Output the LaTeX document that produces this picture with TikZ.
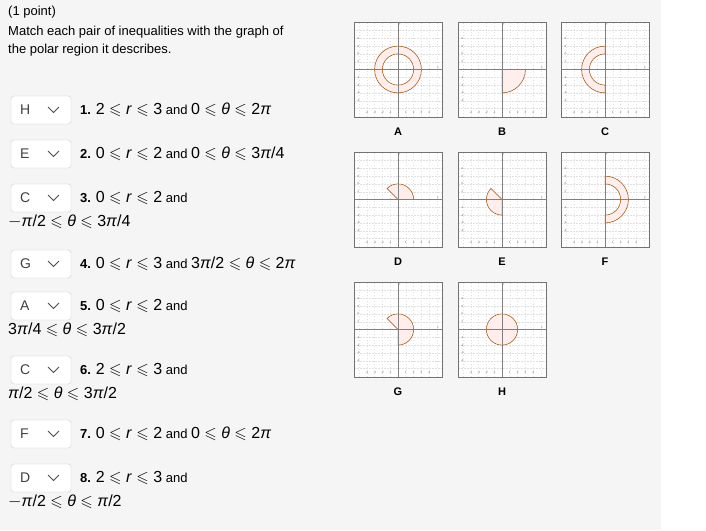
\documentclass[tikz,border=0pt]{standalone}
\usepackage{amssymb}
\usepackage{fontspec}
\setmainfont{Liberation Sans}
\begin{document}
\begin{tikzpicture}[x=1pt,y=-1pt,
  txt/.style={anchor=west,inner sep=0pt,font=\fontsize{13}{15}\selectfont},
  dd/.style={draw=black!20,fill=white,rounded corners=3pt,minimum width=60pt,minimum height=28pt,inner sep=0pt},
  reg/.style={fill=orange!30!red!8,draw=orange!60!black,line width=0.5pt},
  plbl/.style={font=\bfseries\fontsize{11}{13}\selectfont},
  tk/.style={font=\fontsize{3}{3}\selectfont,inner sep=0pt,text=black!60}]
\useasboundingbox (0,0) rectangle (706,530);
\fill[black!4] (0,0) rectangle (661,530);
\newcommand{\mth}[1]{{\fontsize{16}{18}\selectfont #1}}
\newcommand{\lqs}{\(\leqslant\)}
\def\ra{15.6pt}\def\rb{23.4pt}
\node[txt] (pt) at (8,12) {(1 point)};
\node[txt] (q1) at (8,32) {Match each pair of inequalities with the graph of};
\node[txt] (q2) at (8,50) {the polar region it describes.};
% dropdowns
\newcommand{\ddbox}[3]{%
  \node[dd] (#1) at (41,#2) {};
  \node[txt,font=\fontsize{14}{16}\selectfont,text=black!75] (#1l) at (20,#2) {#3};
  \draw[black!70,line width=1pt] (48,#2-3) -- (53.5,#2+2.5) -- (59,#2-3);}
\ddbox{d1}{110}{H}\ddbox{d2}{154}{E}\ddbox{d3}{198}{C}\ddbox{d4}{264}{G}
\ddbox{d5}{306}{A}\ddbox{d6}{370}{C}\ddbox{d7}{434}{F}\ddbox{d8}{478}{D}
\node[txt] (i1) at (80,110) {\textbf{1.} \mth{2 \lqs{} \textit{r} \lqs{} 3} and \mth{0 \lqs{} \textit{θ} \lqs{} 2\textit{π}}};
\node[txt] (i2) at (80,154) {\textbf{2.} \mth{0 \lqs{} \textit{r} \lqs{} 2} and \mth{0 \lqs{} \textit{θ} \lqs{} 3\textit{π}/4}};
\node[txt] (i3) at (80,198) {\textbf{3.} \mth{0 \lqs{} \textit{r} \lqs{} 2} and};
\node[txt] (i3b) at (8,222) {\mth{\(-\)\textit{π}/2 \lqs{} \textit{θ} \lqs{} 3\textit{π}/4}};
\node[txt] (i4) at (80,264) {\textbf{4.} \mth{0 \lqs{} \textit{r} \lqs{} 3} and \mth{3\textit{π}/2 \lqs{} \textit{θ} \lqs{} 2\textit{π}}};
\node[txt] (i5) at (80,306) {\textbf{5.} \mth{0 \lqs{} \textit{r} \lqs{} 2} and};
\node[txt] (i5b) at (8,330) {\mth{3\textit{π}/4 \lqs{} \textit{θ} \lqs{} 3\textit{π}/2}};
\node[txt] (i6) at (80,370) {\textbf{6.} \mth{2 \lqs{} \textit{r} \lqs{} 3} and};
\node[txt] (i6b) at (8,394) {\mth{\textit{π}/2 \lqs{} \textit{θ} \lqs{} 3\textit{π}/2}};
\node[txt] (i7) at (80,434) {\textbf{7.} \mth{0 \lqs{} \textit{r} \lqs{} 2} and \mth{0 \lqs{} \textit{θ} \lqs{} 2\textit{π}}};
\node[txt] (i8) at (80,478) {\textbf{8.} \mth{2 \lqs{} \textit{r} \lqs{} 3} and};
\node[txt] (i8b) at (8,502) {\mth{\(-\)\textit{π}/2 \lqs{} \textit{θ} \lqs{} \textit{π}/2}};
% panels
\newcommand{\pnl}[4]{%
  \begin{scope}[shift={(#1+44,#2+47.5)},x=7.8pt,y=7.8pt]
    \fill[white] (-5.64,-6.09) rectangle (5.64,6.09);
    \foreach \k in {-5,...,5} {\draw[black!12,dash pattern=on 1.5pt off 1.5pt,line width=0.3pt] (\k,-6.09) -- (\k,6.09);
                               \draw[black!12,dash pattern=on 1.5pt off 1.5pt,line width=0.3pt] (-5.64,\k) -- (5.64,\k);}
    #4
    \draw[black!50,line width=0.5pt] (-5.64,0) -- (5.64,0) (0,-6.09) -- (0,6.09);
    \draw[black!55,line width=0.6pt] (-5.64,-6.09) rectangle (5.64,6.09);
    \foreach \k in {-4,-3,-2,-1,1,2,3,4} {\node[tk] at (\k,-5.5) {\k}; \node[tk] at (-5.1,\k) {\k};}
    \node[tk] at (5.1,0.25) {x}; \node[tk] at (0.25,5.8) {y};
  \end{scope}
  \node[plbl] (#3) at (#1+44,#2+110) {#3};}
\pnl{354}{22}{A}{\draw[reg,even odd rule] (0,0) circle[radius=\rb] (0,0) circle[radius=\ra];}
\pnl{458}{22}{B}{\draw[reg] (0,0) -- (270:\rb) arc[start angle=270,end angle=360,radius=\rb] -- cycle;}
\pnl{561}{22}{C}{\draw[reg] (90:\ra) -- (90:\rb) arc[start angle=90,end angle=270,radius=\rb] -- (270:\ra) arc[start angle=270,end angle=90,radius=\ra] -- cycle;}
\pnl{354}{152}{D}{\draw[reg] (0,0) -- (0:\ra) arc[start angle=0,end angle=135,radius=\ra] -- cycle;}
\pnl{458}{152}{E}{\draw[reg] (0,0) -- (135:\ra) arc[start angle=135,end angle=270,radius=\ra] -- cycle;}
\pnl{561}{152}{F}{\draw[reg] (-90:\ra) -- (-90:\rb) arc[start angle=-90,end angle=90,radius=\rb] -- (90:\ra) arc[start angle=90,end angle=-90,radius=\ra] -- cycle;}
\pnl{354}{282}{G}{\draw[reg] (0,0) -- (-90:\ra) arc[start angle=-90,end angle=135,radius=\ra] -- cycle;}
\pnl{458}{282}{H}{\draw[reg] (0,0) circle[radius=\ra];}
\end{tikzpicture}
\end{document}
